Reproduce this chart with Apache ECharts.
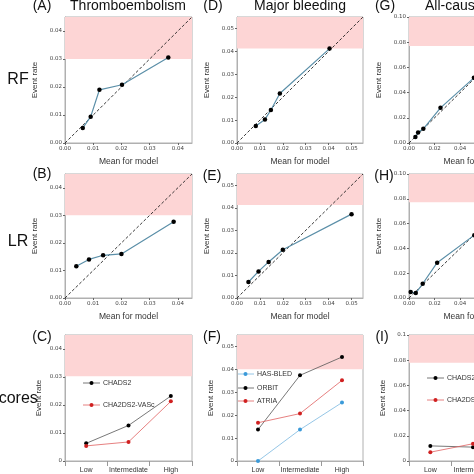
<!DOCTYPE html><html><head><meta charset="utf-8">
<script src="https://cdn.jsdelivr.net/npm/echarts@6/dist/echarts.min.js"></script>
<style>html,body{margin:0;padding:0;background:#fff;overflow:hidden;width:474px;height:474px}#c{width:560px;height:474px}</style></head><body><div id="c"></div>
<script>
// Data
const rfThrombo = [[0.0063,0.0054],[0.0091,0.0094],[0.0122,0.019],[0.0202,0.0208],[0.0366,0.0305]];
const rfBleed = [[0.0082,0.0074],[0.0122,0.0103],[0.0148,0.0144],[0.0187,0.0216],[0.0404,0.0412]];
const rfDeath = [[0.005,0.0048],[0.0071,0.0083],[0.0112,0.0113],[0.0246,0.0279],[0.0507,0.0517],[0.062,0.06]];
const lrThrombo = [[0.004,0.0115],[0.0085,0.014],[0.0135,0.0155],[0.02,0.016],[0.0385,0.0277]];
const lrBleed = [[0.005,0.0071],[0.0094,0.0118],[0.0138,0.016],[0.020,0.0214],[0.050,0.0372]];
const lrDeath = [[0.0013,0.0048],[0.0053,0.004],[0.0107,0.0115],[0.022,0.0285],[0.051,0.0507],[0.062,0.058]];
const riskCats = ['Low','Intermediate','High'];
const cChads2 = [0.0063,0.0127,0.0232];
const cVasc = [0.0054,0.0068,0.0213];
const fHasbled = [0.0,0.0137,0.0255];
const fOrbit = [0.0137,0.0374,0.0454];
const fAtria = [0.0167,0.0207,0.0352];
const iChads2 = [0.012,0.011,0.02];
const iVasc = [0.007,0.0137,0.022];

const grids=[], xAxes=[], yAxes=[], series=[], graphics=[];
const colL=[65,237,409], rowT=[17,174,335], H=[126,124,127], W=[127,126,128];
function addPanel(r,c,opt){
  const gi=grids.length;
  grids.push({left:colL[c],top:rowT[r],width:W[c],height:H[r],show:true,borderColor:'#b0b0b0',borderWidth:1,backgroundColor:'transparent'});
  const lab={fontSize:5.5,color:'#444',fontFamily:'DejaVu Sans',margin:3,showMaxLabel:opt.showMax!==false};
  if(opt.cats){
    xAxes.push({type:'category',gridIndex:gi,data:opt.cats,boundaryGap:true,axisLine:{lineStyle:{color:'#b0b0b0'}},axisTick:{show:true,lineStyle:{color:'#999'}},axisLabel:{interval:0,fontSize:7,color:'#333',fontFamily:'Liberation Sans',margin:6},splitLine:{show:false}});
  } else {
    xAxes.push({type:'value',gridIndex:gi,min:0,max:opt.max,interval:opt.xi,axisLine:{lineStyle:{color:'#b0b0b0'}},axisTick:{show:true,length:2,lineStyle:{color:'#666'}},axisLabel:Object.assign({formatter:v=>v.toFixed(2)},lab),splitLine:{show:false},
      name:'Mean for model',nameLocation:'middle',nameGap:14,nameTextStyle:{fontSize:8.5,color:'#333',fontFamily:'Liberation Sans'}});
  }
  yAxes.push({type:'value',gridIndex:gi,min:0,max:opt.ymax,interval:opt.yi,axisLine:{show:true,lineStyle:{color:'#b0b0b0'}},axisTick:{show:true,length:2,lineStyle:{color:'#666'}},axisLabel:Object.assign({formatter:opt.yf||(v=>v.toFixed(2))},lab),splitLine:{show:false},
    name:'Event rate',nameLocation:'middle',nameGap:opt.ng||26,nameTextStyle:{fontSize:8,color:'#333',fontFamily:'Liberation Sans'}});
  series.push({type:'line',xAxisIndex:gi,yAxisIndex:gi,data:[],silent:true,
    markArea:{silent:true,itemStyle:{color:'#fdd5d5'},data:[[{yAxis:opt.pink},{yAxis:opt.ymax}]]}});
  if(!opt.cats){
    series.push({type:'line',xAxisIndex:gi,yAxisIndex:gi,data:[[0,0],[opt.max,opt.max]],showSymbol:false,lineStyle:{color:'#222',type:[3,2],width:0.9},z:3});
    series.push({type:'line',xAxisIndex:gi,yAxisIndex:gi,data:opt.pts,symbol:'circle',symbolSize:4.5,itemStyle:{color:'#000'},lineStyle:{color:'#5b8fa8',width:1.2},z:4});
  } else {
    opt.lines.forEach(l=>series.push({type:'line',xAxisIndex:gi,yAxisIndex:gi,data:l.d,symbol:'circle',symbolSize:4,itemStyle:{color:l.c},lineStyle:{color:l.lc,width:0.8},z:4}));
  }
}
const fY4=v=>v===0?'0':String(+v.toFixed(2));
addPanel(0,0,{max:0.045,xi:0.01,ymax:0.045,yi:0.01,pink:0.03,pts:rfThrombo,showMax:false});
addPanel(0,1,{max:0.055,xi:0.01,ymax:0.055,yi:0.01,pink:0.0413,pts:rfBleed,showMax:false});
addPanel(0,2,{max:0.1,xi:0.02,ymax:0.1,yi:0.02,pink:0.077,pts:rfDeath});
addPanel(1,0,{max:0.045,xi:0.01,ymax:0.045,yi:0.01,pink:0.03,pts:lrThrombo,showMax:false});
addPanel(1,1,{max:0.055,xi:0.01,ymax:0.055,yi:0.01,pink:0.0412,pts:lrBleed,showMax:false});
addPanel(1,2,{max:0.1,xi:0.02,ymax:0.1,yi:0.02,pink:0.0773,pts:lrDeath});
addPanel(2,0,{cats:riskCats,ymax:0.045,yi:0.01,pink:0.0303,yf:fY4,ng:22,showMax:false,lines:[{d:cChads2,c:'#000',lc:'#555'},{d:cVasc,c:'#d02020',lc:'#e06060'}]});
addPanel(2,1,{cats:riskCats,ymax:0.055,yi:0.01,pink:0.04,yf:fY4,ng:22,showMax:false,lines:[{d:fHasbled,c:'#3a9ad9',lc:'#7ab8e0'},{d:fOrbit,c:'#000',lc:'#555'},{d:fAtria,c:'#d02020',lc:'#e06060'}]});
addPanel(2,2,{cats:riskCats,ymax:0.1,yi:0.02,pink:0.078,yf:fY4,ng:22,lines:[{d:iChads2,c:'#000',lc:'#555'},{d:iVasc,c:'#d02020',lc:'#e06060'}]});

function txt(x,y,t,fs,align){graphics.push({type:'text',x:x,y:y,style:{text:t,fontSize:fs,fill:'#111',fontFamily:'Liberation Sans',textAlign:align||'center',textVerticalAlign:'middle'}});}
txt(42,6,'(A)',14); txt(128,6,'Thromboembolism',14);
txt(213,6,'(D)',14); txt(300,6,'Major bleeding',14);
txt(385,6,'(G)',14); txt(425,6,'All-cause mortality',14,'left');
txt(42,174,'(B)',14); txt(212,176,'(E)',14); txt(384,176,'(H)',14);
txt(42,337,'(C)',14); txt(212,337,'(F)',14); txt(382,337,'(I)',14);
txt(18,80,'RF',16); txt(18,242,'LR',16); txt(-12,399,'Scores',16,'left');
function leg(x,y,t,c,lc){
  graphics.push({type:'line',shape:{x1:x,y1:y,x2:x+17,y2:y},style:{stroke:lc,lineWidth:0.8}});
  graphics.push({type:'circle',shape:{cx:x+8.5,cy:y,r:2},style:{fill:c}});
  graphics.push({type:'text',x:x+20,y:y,style:{text:t,fontSize:7,fill:'#333',fontFamily:'Liberation Sans',textVerticalAlign:'middle'}});
}
leg(83,383,'CHADS2','#000','#555'); leg(83,405,'CHA2DS2-VASc','#d02020','#e06060');
leg(237,374,'HAS-BLED','#3a9ad9','#7ab8e0'); leg(237,388,'ORBIT','#000','#555'); leg(237,401,'ATRIA','#d02020','#e06060');
leg(427,378,'CHADS2','#000','#555'); leg(427,400,'CHA2DS2-VASc','#d02020','#e06060');

const ch=echarts.init(document.getElementById('c'),null,{renderer:'canvas'});
ch.setOption({animation:false,grid:grids,xAxis:xAxes,yAxis:yAxes,series:series,graphic:graphics});
</script></body></html>
